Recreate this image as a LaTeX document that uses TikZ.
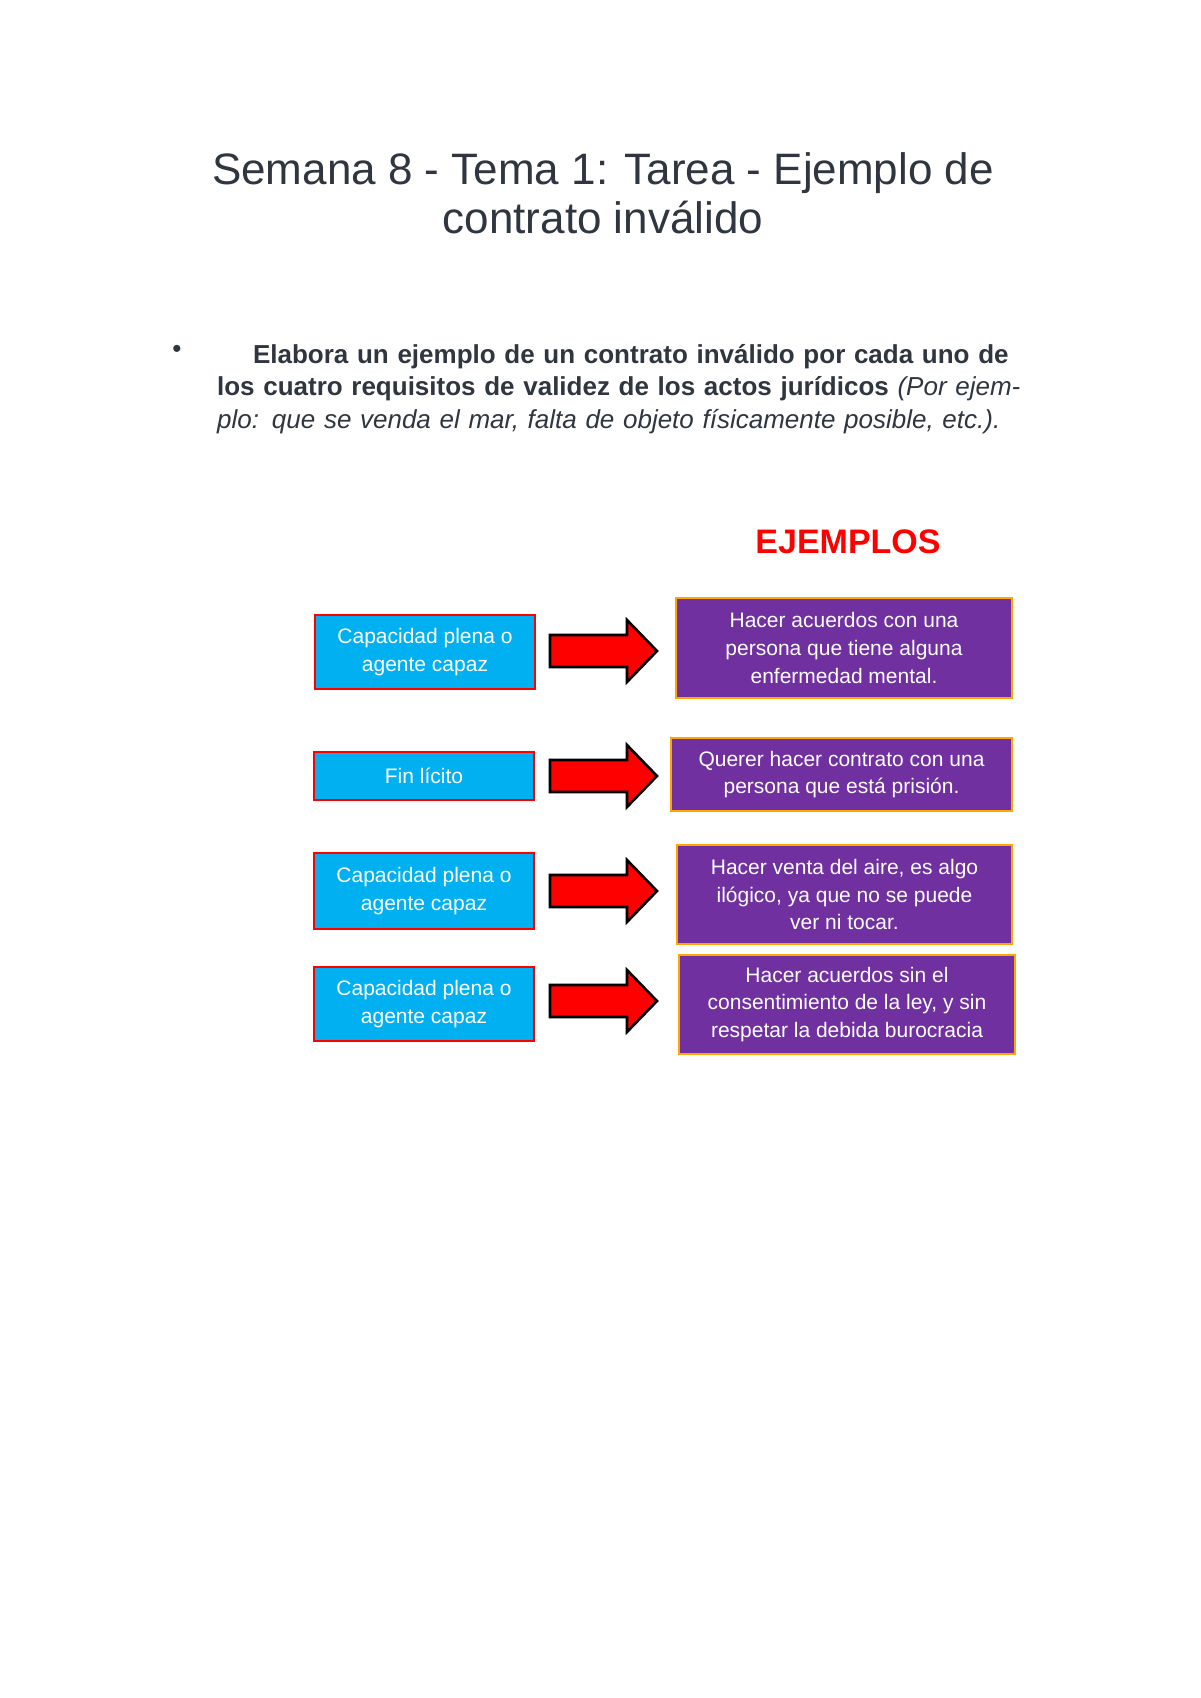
\documentclass[tikz,border=0pt]{standalone}
\usepackage{fontspec}
\setmainfont{Liberation Sans}
\begin{document}
\begin{tikzpicture}[x=0.5pt,y=-0.5pt,
  req/.style={draw=red,line width=1.3pt,fill=cyan!70!blue!90!white,text=white,font=\fontsize{10.5}{14}\selectfont,align=center,inner sep=0pt},
  ex/.style={draw=orange!70!yellow,line width=1.3pt,fill=violet!80!blue!70!purple,text=white,font=\fontsize{10.5}{13.8}\selectfont,align=center,inner sep=0pt},
  arr/.style={draw=black,line width=1.3pt,fill=red}]
\definecolor{reqc}{HTML}{00B0F0}\definecolor{exc}{HTML}{7030A0}\definecolor{tc}{HTML}{2F3640}
\tikzset{req/.append style={fill=reqc},ex/.append style={fill=exc}}
\useasboundingbox (0,0) rectangle (1200,1698);
\fill[white] (0,0) rectangle (1200,1698);
\node[text=tc,font=\fontsize{22}{24.5}\selectfont,align=center] (title) at (603,193) {Semana 8 - Tema 1: Tarea - Ejemplo de\\contrato inválido};
\node[text=tc,font=\fontsize{13}{16}\selectfont] (bul) at (177,351) {•};
\node[text=tc,font=\fontsize{13}{16.3}\selectfont,anchor=north west,text width=404pt,align=left] (task) at (210,337)
 {\hspace*{18pt}\textbf{Elabora un ejemplo de un contrato inválido por cada uno de los cuatro requisitos de validez de los actos jurídicos} \textit{(Por ejemplo: que se venda el mar, falta de objeto físicamente posible, etc.).}};
\node[text=red,font=\fontsize{17}{20}\selectfont\bfseries] (ej) at (848,542) {EJEMPLOS};
\foreach \i/\bx/\by/\bX/\bY/\t/\px/\py/\pX/\pY/\e/\ay in {
 1/315/615/535/689/{Capacidad plena o\\agente capaz}/676/598/1012/698/{Hacer acuerdos con una\\persona que tiene alguna\\enfermedad mental.}/651,
 2/314/752/534/800/{Fin lícito}/671/738/1012/811/{Querer hacer contrato con una\\persona que está prisión.}/776,
 3/314/853/534/929/{Capacidad plena o\\agente capaz}/677/845/1012/944/{Hacer venta del aire, es algo\\ilógico, ya que no se puede\\ver ni tocar.}/891,
 4/314/967/534/1041/{Capacidad plena o\\agente capaz}/679/955/1015/1054/{Hacer acuerdos sin el\\consentimiento de la ley, y sin\\respetar la debida burocracia}/1001}{
 \node[req,minimum width=(\bX-\bx)*0.5pt,minimum height=(\bY-\by)*0.5pt] (r\i) at ({(\bx+\bX)/2},{(\by+\bY)/2}) {\t};
 \node[ex,minimum width=(\pX-\px)*0.5pt,minimum height=(\pY-\py)*0.5pt] (e\i) at ({(\px+\pX)/2},{(\py+\pY)/2}) {\e};
 \draw[arr] (550,\ay-16) -- (627,\ay-16) -- (627,\ay-31) -- (657,\ay) -- (627,\ay+31) -- (627,\ay+16) -- (550,\ay+16) -- cycle;
}
\end{tikzpicture}
\end{document}
